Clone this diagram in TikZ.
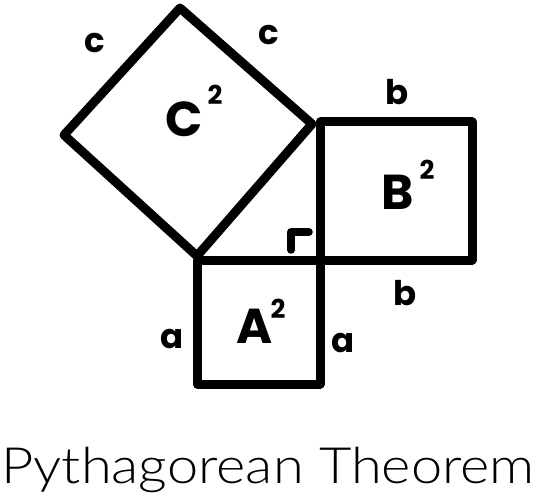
\documentclass[tikz,border=0pt]{standalone}
\usepackage{fontspec}
\newfontfamily\labfont{Poppins}[UprightFont=* Bold]
\newfontfamily\ttlfont{Lato}[UprightFont=* Light]
\begin{document}
\begin{tikzpicture}[x=1pt,y=-1pt,
  sq/.style={line width=9pt,line join=round,line cap=round},
  small/.style={font=\labfont\fontsize{34}{34}\selectfont,anchor=base,inner sep=0pt},
  big/.style={font=\labfont\fontsize{49}{49}\selectfont,anchor=base,inner sep=0pt},
  sup/.style={font=\labfont\fontsize{26}{26}\selectfont,anchor=base,inner sep=0pt}]
\useasboundingbox (0,0) rectangle (536,500);
% squares
\coordinate (R) at (320,260);
\draw[sq] (197,260) rectangle (R |- 0,384);
\draw[sq] (320,122) rectangle (472,260);
\draw[sq] (197,256) -- (312,124) -- (180,8) -- (64,135) -- cycle;
% right angle marker
\draw[line width=7.5pt,line cap=round,line join=round] (291,250) -- (291,232) -- (309,232);
% labels
\node[small] (c1) at (95,53) {c};
\node[small] (c2) at (269,45) {c};
\node[big] (C) at (184,137) {C};
\node[sup] (C2) at (215,105) {2};
\node[small] (b1) at (397,105) {b};
\node[big] (B) at (398,210) {B};
\node[sup] (B2) at (427,180) {2};
\node[small] (b2) at (405,305) {b};
\node[big] (A) at (255,343) {A};
\node[sup] (A2) at (278,318) {2};
\node[small] (a1) at (172,348) {a};
\node[small] (a2) at (343,352) {a};
% title
\node[font=\ttlfont\fontsize{50}{50}\selectfont,anchor=base,inner sep=0pt,xscale=1.12,transform shape] (title) at (268,483) {Pythagorean Theorem};
\end{tikzpicture}
\end{document}
